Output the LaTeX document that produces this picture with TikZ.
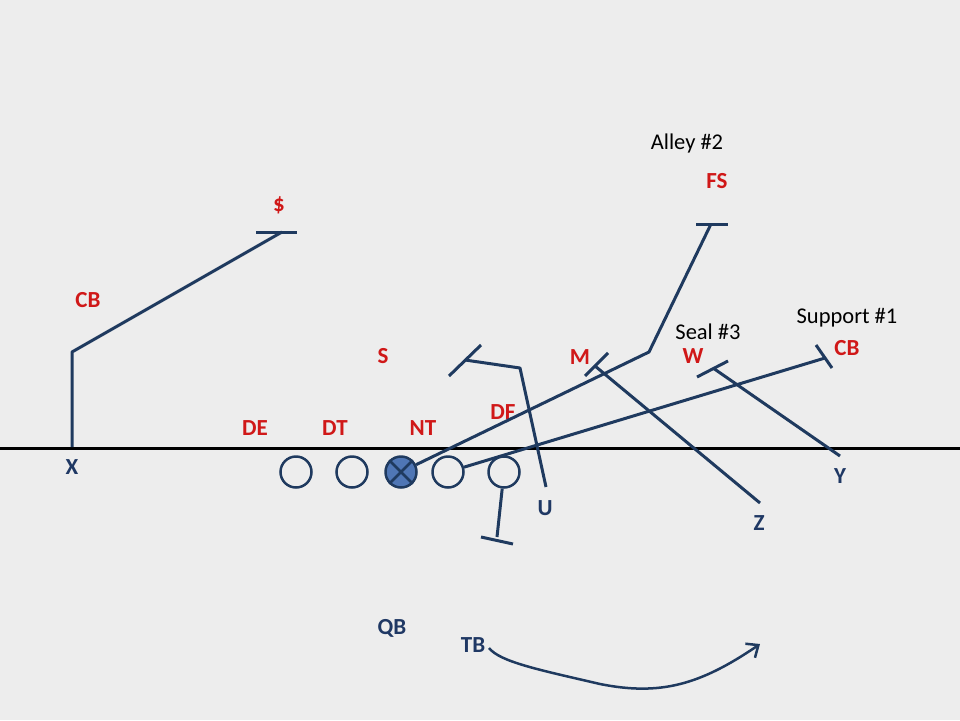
\documentclass[tikz,border=0pt]{standalone}
\usepackage{fontspec}
\setmainfont{Carlito}
\usetikzlibrary{arrows.meta}
\definecolor{bgc}{HTML}{EDEDED}
\definecolor{navy}{HTML}{1F3A5F}
\definecolor{offc}{HTML}{1F3864}
\definecolor{defc}{HTML}{D01818}
\definecolor{fillc}{HTML}{4F76B5}
\begin{document}
\begin{tikzpicture}[x=1pt,y=-1pt,
  route/.style={draw=navy, line width=3pt},
  dlab/.style={text=defc, font=\fontsize{23}{27}\selectfont\bfseries, inner sep=0pt},
  olab/.style={text=offc, font=\fontsize{23}{27}\selectfont\bfseries, inner sep=0pt},
  note/.style={text=black, font=\fontsize{22.5}{27}\selectfont, inner sep=0pt},
  lineman/.style={circle, draw=navy, line width=2.5pt, minimum size=31pt, inner sep=0pt}]
\fill[bgc] (0,0) rectangle (960,720);
\useasboundingbox (0,0) rectangle (960,720);

% line of scrimmage
\coordinate (losL) at (0,448);
\coordinate (losR) at (960,448);
\draw[black, line width=3pt] (losL) -- (losR);

% linemen
\node[lineman] (lt) at (296,472) {};
\node[lineman] (lg) at (352,472) {};
\node[lineman, fill=fillc] (c) at (401,472) {};
\node[lineman] (rg) at (448,472) {};
\node[lineman] (rt) at (504,472) {};
\draw[navy, line width=2.5pt] (c.north west) -- (c.south east) (c.north east) -- (c.south west);

% labels - defense
\node[dlab] (dcbL) at (88,300) {CB};
\node[dlab] (dmoney) at (279,205) {\$};
\node[dlab] (dde) at (255,428) {DE};
\node[dlab] (ddt) at (335,428) {DT};
\node[dlab] (dnt) at (423,428) {NT};
\node[dlab] (ddf) at (503,412) {DF};
\node[dlab] (ds) at (383,356) {S};
\node[dlab] (dm) at (580,357) {M};
\node[dlab] (dw) at (693,356) {W};
\node[dlab] (dcbR) at (847,348) {CB};
\node[dlab] (dfs) at (717,181) {FS};

% labels - offense
\node[olab] (ox) at (72,467) {X};
\node[olab] (oy) at (840,476) {Y};
\node[olab] (oz) at (759,523) {Z};
\node[olab] (ou) at (545,508) {U};
\node[olab] (oqb) at (392,628) {QB};
\node[olab] (otb) at (473,645) {TB};

% notes
\node[note] (nalley) at (687,143) {Alley \#2};
\node[note] (nseal) at (708,332) {Seal \#3};
\node[note] (nsupport) at (847,318) {Support \#1};

% X route
\coordinate (xs) at (72,447);
\coordinate (xb) at (72,352);
\coordinate (xe) at (282,232);
\coordinate (xt1) at (256,232);
\coordinate (xt2) at (297,232);
\draw[route, line join=round] (xs) -- (xb) -- (xe);
\draw[route] (xt1) -- (xt2);

% center to FS
\coordinate (fsb) at (649,352);
\coordinate (fse) at (711,224);
\coordinate (fst1) at (696,224);
\coordinate (fst2) at (728,224);
\draw[route, line join=round] (c) -- (fsb) -- (fse);
\draw[route] (fst1) -- (fst2);

% guard to CB
\coordinate (cbe) at (825,358);
\coordinate (cbt1) at (816,345);
\coordinate (cbt2) at (832,368);
\draw[route] (rg) -- (cbe);
\draw[route] (cbt1) -- (cbt2);

% U route
\coordinate (us) at (546,487);
\coordinate (ub) at (520,368);
\coordinate (ue) at (465,360);
\coordinate (ut1) at (449,376);
\coordinate (ut2) at (481,345);
\draw[route, line join=round] (us) -- (ub) -- (ue);
\draw[route] (ut1) -- (ut2);

% tackle block back
\coordinate (te) at (497,537);
\coordinate (tt1) at (481,537);
\coordinate (tt2) at (513,544);
\draw[route] (rt) -- (te);
\draw[route] (tt1) -- (tt2);

% Z route to M
\coordinate (zs) at (760,503);
\coordinate (ze) at (595,366);
\coordinate (zt1) at (585,376);
\coordinate (zt2) at (608,353);
\draw[route] (zs) -- (ze);
\draw[route] (zt1) -- (zt2);

% Y route to W
\coordinate (ys) at (840,456);
\coordinate (ye) at (713,368);
\coordinate (yt1) at (697,377);
\coordinate (yt2) at (728,361);
\draw[route] (ys) -- (ye);
\draw[route] (yt1) -- (yt2);

% TB path
\coordinate (tbs) at (489,648);
\coordinate (tbe) at (760,644);
\draw[route, line width=2.5pt, -{Straight Barb[length=10pt,width=17pt,line width=2.5pt]}]
  (tbs) .. controls (500,662) and (540,670) .. (600,684)
        .. controls (660,696) and (700,685) .. (tbe);
\end{tikzpicture}
\end{document}
